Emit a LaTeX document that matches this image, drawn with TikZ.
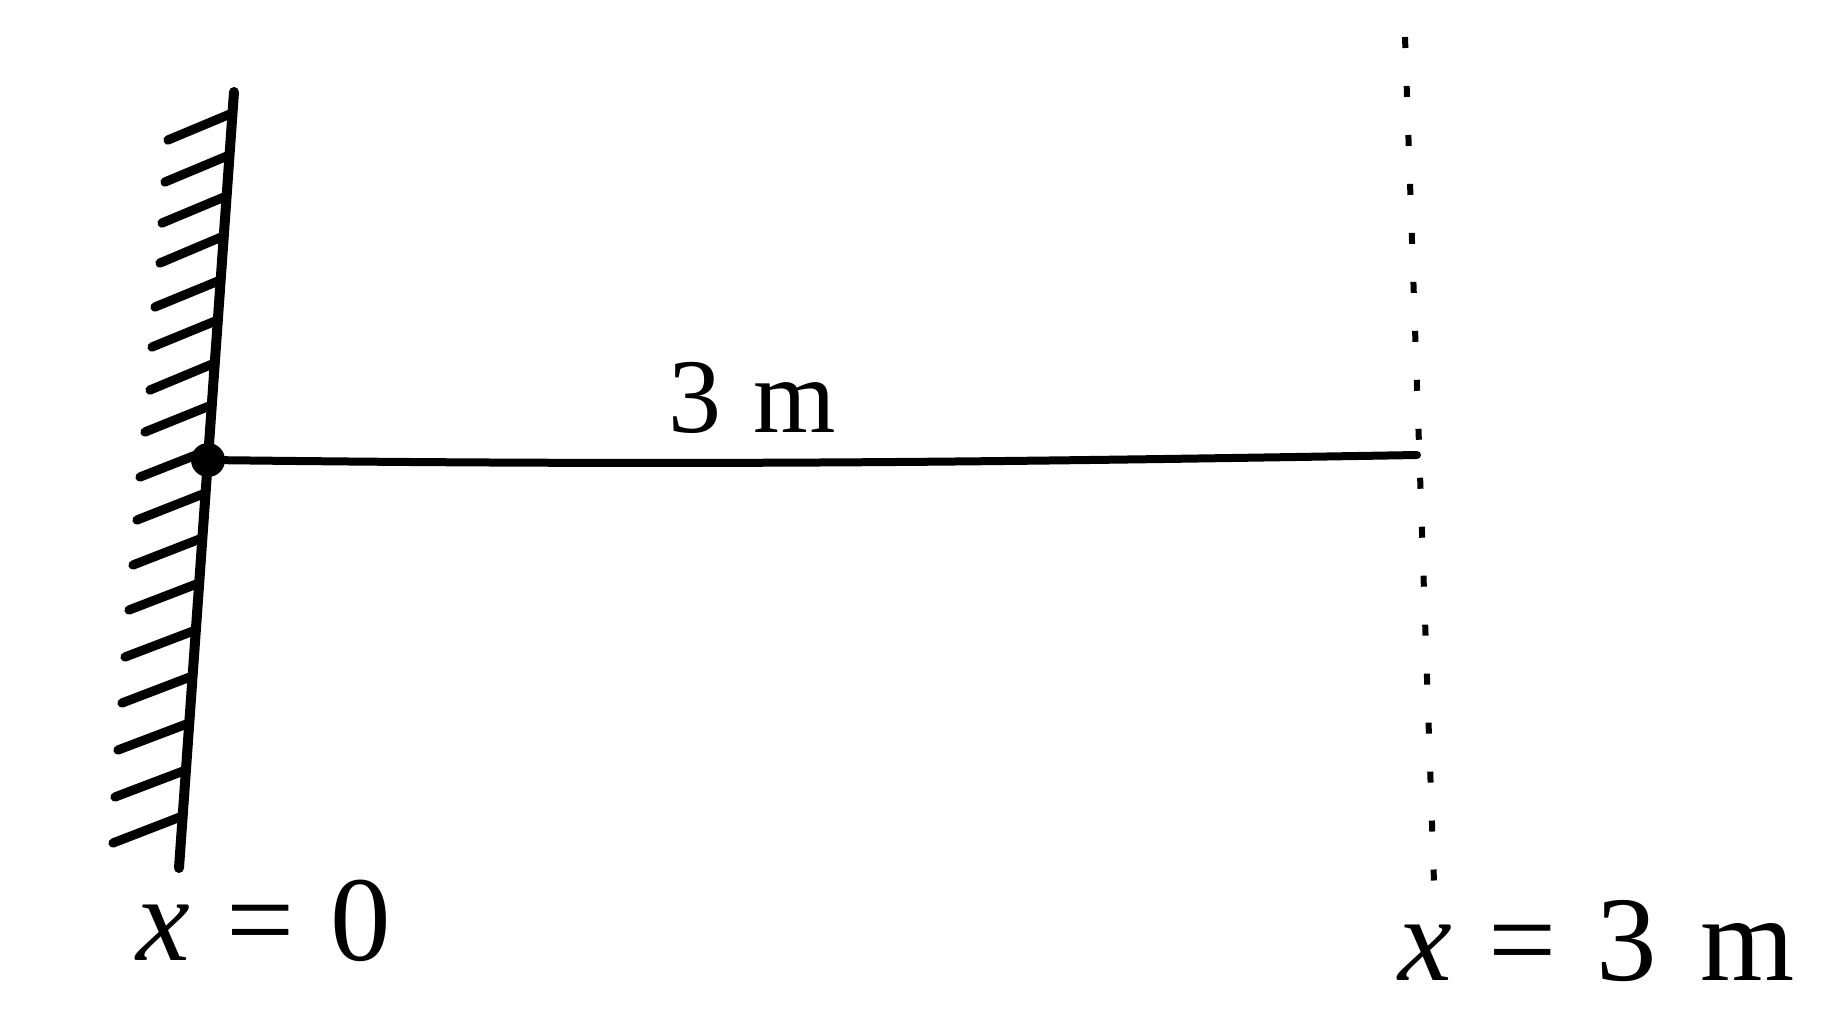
\documentclass[tikz,border=0pt]{standalone}
\usepackage{fontspec}
\setmainfont{Liberation Serif}
\begin{document}
\begin{tikzpicture}[x=0.5pt,y=-0.5pt,
  wallline/.style={line width=5pt,line cap=round},
  hatchline/.style={line width=4.6pt,line cap=round},
  ropeline/.style={line width=4pt,line cap=round},
  guideline/.style={line width=3pt,dash pattern=on 5.5pt off 19pt},
  lbl/.style={inner sep=0pt,anchor=base west},
  dotnode/.style={circle,fill=black,inner sep=0pt,minimum size=17pt}]
\useasboundingbox (0,0) rectangle (1822,1018);
% wall
\coordinate (WT) at (234,92);
\coordinate (WB) at (179,868);
\draw[wallline] (WT) -- (WB);
\foreach \lx/\ly in {168/140,165/182,162/223,160/263,155/307,152/347,150/390,145/432,140/477,137/520,133/565,129/610,125/657,122/703,118/750,115/797,113/843}{
  \pgfmathsetmacro{\yw}{\ly-27}
  \pgfmathsetmacro{\xw}{234-(\yw-92)/776*55}
  \draw[hatchline] (\lx,\ly) -- (\xw,\yw);
}
% rope
\node[dotnode] (O) at (208,460) {};
\coordinate (E) at (1417,455);
\draw[ropeline] (O.center) .. controls (700,466) and (1000,462) .. (E);
% dotted line
\coordinate (DT) at (1405,37);
\coordinate (DB) at (1434,882);
\draw[guideline] (DT) -- (DB);
% labels
\node[lbl,font=\fontsize{53pt}{60pt}\selectfont] (L3) at (668,432) {3\hspace{0.3em}m};
\node[lbl,font=\fontsize{60.5pt}{70pt}\selectfont] (L0) at (136,960) {\textit{x}\hspace{0.3em}=\hspace{0.3em}0};
\node[lbl,font=\fontsize{60.5pt}{70pt}\selectfont] (L1) at (1398,980) {\textit{x}\hspace{0.3em}=\hspace{0.33em}3\hspace{0.36em}m};
\end{tikzpicture}
\end{document}
